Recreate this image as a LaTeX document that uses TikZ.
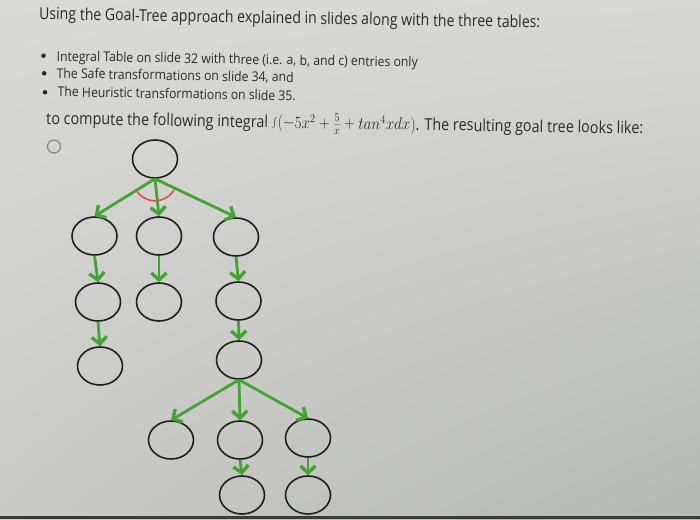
\documentclass[tikz,border=0pt]{standalone}
\usepackage{fontspec}
\setmainfont{Open Sans}
\usepackage{graphicx}
\usetikzlibrary{shapes.geometric,arrows.meta,shadings}
\definecolor{bgA}{HTML}{DADAD8}
\definecolor{bgB}{HTML}{D8D9D6}
\definecolor{bgC}{HTML}{CACBC7}
\definecolor{bgD}{HTML}{B6B8B3}
\definecolor{bottomdark}{HTML}{3A3A3A}
\definecolor{textgray}{HTML}{2A2A2A}
\definecolor{nodeline}{HTML}{1E1E1E}
\definecolor{arrgreen}{HTML}{45A234}
\definecolor{andred}{HTML}{D0584A}
\definecolor{radiogray}{HTML}{858585}
\begin{document}
\begin{tikzpicture}[x=1pt,y=-1pt,
  goal/.style={ellipse,draw=nodeline,line width=1.6pt,minimum width=45pt,minimum height=38pt,inner sep=0pt},
  garrow/.style={draw=arrgreen,line width=2.8pt,-{Straight Barb[length=7pt,width=15pt,line width=3.4pt]}},
  txt/.style={anchor=base west,inner sep=0pt,text=textgray,rotate=-0.95},
  bigtxt/.style={txt,font=\fontsize{16.5}{19}\selectfont},
  smalltxt/.style={txt,font=\fontsize{13.5}{16}\selectfont},
  bulletdot/.style={circle,fill=textgray,inner sep=0pt,minimum size=4.6pt}
]
\useasboundingbox (0,0) rectangle (700,519);
\shade[upper left=bgA,upper right=bgB,lower left=bgC,lower right=bgD] (0,0) rectangle (700,519);
\fill[bottomdark] (0,515.5) rectangle (700,519);

% text
\node[bigtxt] (title) at (39,19.5) {\resizebox{501pt}{\height}{Using the Goal-Tree approach explained in slides along with the three tables:}};
\node[bulletdot] (b1) at (43.5,55.7) {};
\node[bulletdot] (b2) at (44.2,73.3) {};
\node[bulletdot] (b3) at (45,92.3) {};
\node[smalltxt] (l1) at (56.5,61) {\resizebox{361pt}{\height}{Integral Table on slide 32 with three (i.e. a, b, and c) entries only}};
\node[smalltxt] (l2) at (56.5,78.3) {\resizebox{237pt}{\height}{The Safe transformations on slide 34, and}};
\node[smalltxt] (l3) at (57.5,96.7) {\resizebox{238pt}{\height}{The Heuristic transformations on slide 35.}};
\node[bigtxt] (l4) at (46,124) {\resizebox{597pt}{\height}{to compute the following integral $\int(-5x^2+\frac{5}{x}+tan^4xdx)$. The resulting goal tree looks like:}};

% radio button
\node[circle,draw=radiogray,line width=1.2pt,minimum size=13pt,inner sep=0pt] (radio) at (54,146.5) {};

% goal tree
\node[goal] (r)  at (155,159) {};
\node[goal] (a1) at (94.5,236) {};
\node[goal] (a2) at (98,302) {};
\node[goal] (a3) at (100,366) {};
\node[goal] (b1n) at (159,236) {};
\node[goal] (b2n) at (159,302) {};
\node[goal] (c1) at (236,237) {};
\node[goal] (c2) at (238.5,301) {};
\node[goal] (c3) at (239,360) {};
\node[goal] (d1) at (171,440) {};
\node[goal] (e1) at (240,440) {};
\node[goal] (e2) at (242,495) {};
\node[goal] (f1) at (308,438) {};
\node[goal] (f2) at (308,495) {};

\draw[garrow] (r.south) -- (a1.north);
\draw[garrow] (r.south) -- (b1n.north);
\draw[garrow] (r.south) -- (c1.north);
\draw[andred,line width=1.6pt] (r.south) ++(150:22) arc (150:30:22);

\draw[garrow] (a1.south) -- (a2.north);
\draw[garrow] (a2.south) -- (a3.north);
\draw[garrow] (b1n.south) -- (b2n.north);
\draw[garrow] (c1.south) -- (c2.north);
\draw[garrow] (c2.south) -- (c3.north);

\draw[garrow] (c3.south) -- (d1.north);
\draw[garrow] (c3.south) -- (e1.north);
\draw[garrow] (c3.south) -- (f1.north);
\draw[garrow] (e1.south) -- (e2.north);
\draw[garrow] (f1.south) -- (f2.north);
\end{tikzpicture}
\end{document}
